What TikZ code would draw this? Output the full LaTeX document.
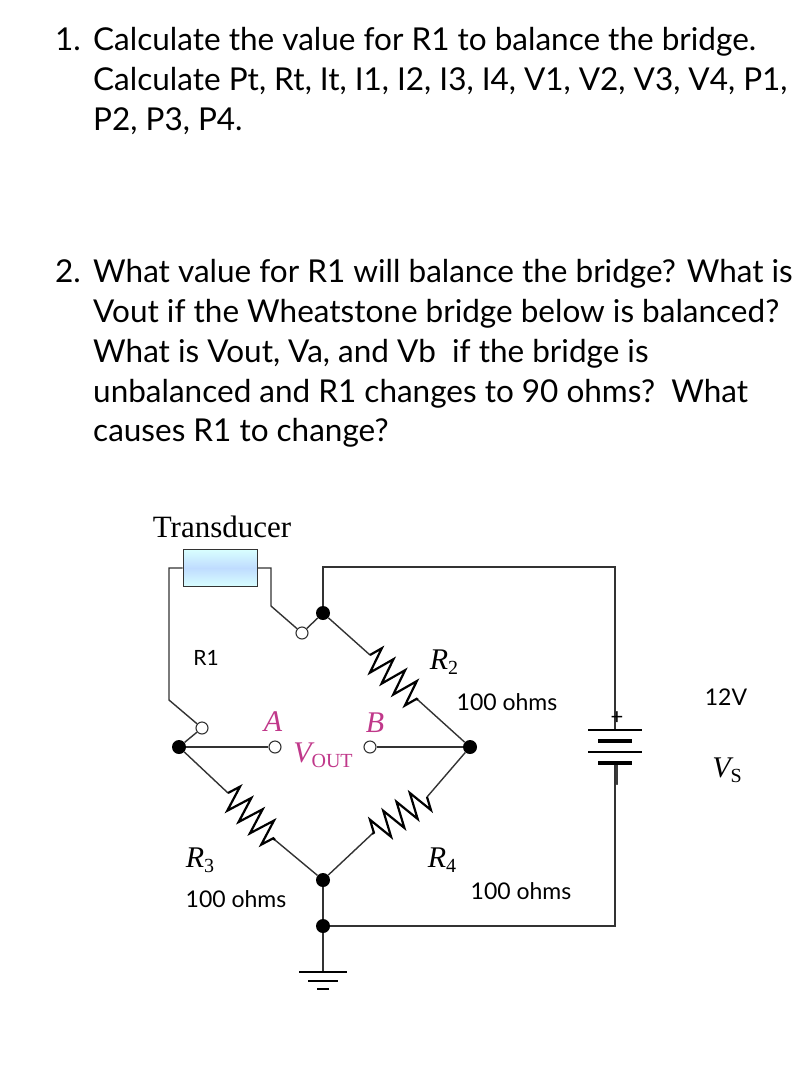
\documentclass[tikz,border=0pt]{standalone}
\usepackage{fontspec}
\setmainfont{Lato}
\newfontfamily\serifff{Liberation Serif}
\usetikzlibrary{decorations.pathmorphing}
\definecolor{mag}{HTML}{C0388A}
\newcommand{\ssub}[1]{\raisebox{-5pt}{\fontsize{20}{22}\selectfont\upshape #1}}
\begin{document}
\begin{tikzpicture}[x=1pt,y=-1pt,
  q/.style={anchor=base west,inner sep=0pt,font=\fontsize{31.5}{36}\selectfont},
  wire/.style={line width=1.4pt,black!80},
  dot/.style={circle,fill=black,inner sep=0pt,minimum size=14pt},
  term/.style={circle,draw=black!80,fill=white,line width=1.1pt,inner sep=0pt,minimum size=12pt},
  zz/.style={line width=2.2pt,decorate,decoration={zigzag,segment length=16pt,amplitude=13pt}},
  val/.style={font=\fontsize{23}{26}\selectfont,inner sep=0pt},
  rl/.style={font=\serifff\itshape\fontsize{30}{32}\selectfont,inner sep=0pt}]
\useasboundingbox (0,0) rectangle (803,1079);
% questions
\node[q] (n1) at (55,50) {1.};
\node[q] (l1) at (93,50) {Calculate the value for R1 to balance the bridge.};
\node[q] (l2) at (93,90) {Calculate Pt, Rt, It, I1, I2, I3, I4, V1, V2, V3, V4, P1,};
\node[q] (l3) at (93,130) {P2, P3, P4.};
\node[q] (n2) at (55,282) {2.};
\node[q] (m1) at (93,282) {What value for R1 will balance the bridge? What is};
\node[q] (m2) at (93,322) {Vout if the Wheatstone bridge below is balanced?};
\node[q] (m3) at (93,362) {What is Vout, Va, and Vb\ \ if the bridge is};
\node[q] (m4) at (93,402) {unbalanced and R1 changes to 90 ohms?\ \ What};
\node[q] (m5) at (93,441) {causes R1 to change?};
% circuit
\node[font=\serifff\fontsize{31}{33}\selectfont,inner sep=0pt] (tr) at (222,527) {Transducer};
\node[draw=black!80,line width=1pt,minimum width=74pt,minimum height=37pt,inner sep=0pt,
  top color=cyan!15,bottom color=cyan!15,middle color=cyan!45!blue!25] (box) at (220,568) {};
\node[dot] (top) at (323,613) {};
\node[dot] (left) at (179,747) {};
\node[dot] (right) at (470,747) {};
\node[dot] (bot) at (323,880) {};
\node[dot] (gnd) at (323,926) {};
\node[term] (t1) at (302,633) {};
\node[term] (t2) at (202,728) {};
\node[term] (ta) at (275,747) {};
\node[term] (tb) at (370,747) {};
\coordinate (bx) at (615,567);
\coordinate (bp) at (615,730);
\coordinate (bm) at (615,763);
\coordinate (g0) at (323,972);
% transducer wiring
\draw[wire] (box.west) -- (169,568) -- (169,700) -- (t2);
\draw[wire] (box.east) -- (271,568) -- (271,606) -- (t1);
\draw[wire] (t1) -- (top);
\draw[wire] (t2) -- (left);
% supply
\draw[wire] (top) -- (323,567) -- (bx) -- (bp);
\draw[wire] (bm) -- (615,926) -- (gnd);
\draw[wire] (bot) -- (gnd) -- (g0);
\draw[line width=2.5pt] (299,972) -- (347,972) (308,981) -- (338,981) (317,989) -- (329,989);
\draw[line width=1.8pt] (588,730) -- (642,730) (588,752) -- (642,752);
\draw[line width=4pt] (598,741) -- (632,741) (598,763) -- (632,763);
% bridge
\draw[wire] (top) -- (370,655);
\draw[zz] (370,655) -- (418,700);
\draw[wire] (418,700) -- (right);
\draw[wire] (left) -- (228,793);
\draw[zz] (228,793) -- (275,840);
\draw[wire] (275,840) -- (bot);
\draw[wire] (right) -- (427,797);
\draw[zz] (427,797) -- (372,834);
\draw[wire] (372,834) -- (bot);
\draw[wire] (left) -- (ta);
\draw[wire] (tb) -- (right);
% labels
\node[font=\fontsize{21}{24}\selectfont,inner sep=0pt] (r1) at (206,658) {R1};
\node[rl] (r2) at (444,662) {R\ssub{2}};
\node[rl] (r3) at (200,860) {R\ssub{3}};
\node[rl] (r4) at (442,860) {R\ssub{4}};
\node[val] (v2) at (507,702) {100 ohms};
\node[val] (v3) at (236,899) {100 ohms};
\node[val] (v4) at (521,891) {100 ohms};
\node[rl,text=mag] (la) at (273,722) {A};
\node[rl,text=mag] (lb) at (375,723) {B};
\node[rl,text=mag] (vo) at (323,755) {V\ssub{OUT}};
\node[val] (v12) at (726,697) {12V};
\node[rl] (vs) at (727,770) {V\ssub{S}};
\node[font=\fontsize{22}{24}\selectfont,inner sep=0pt] (pl) at (617,718) {+};
\node[font=\fontsize{22}{24}\selectfont,inner sep=0pt] (mi) at (617,775) {|};
\end{tikzpicture}
\end{document}
